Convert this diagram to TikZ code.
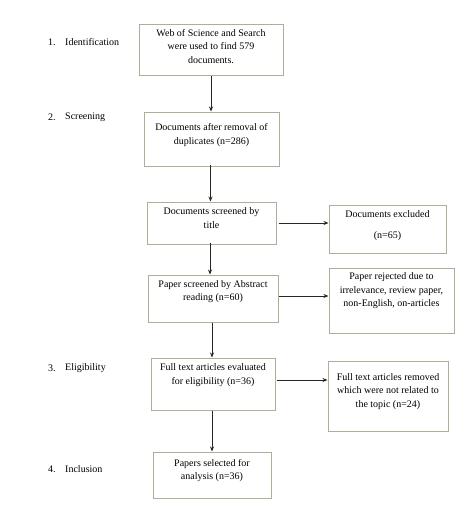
\documentclass[tikz,border=0pt]{standalone}
\usepackage{fontspec}
\setmainfont{Liberation Serif}
\usetikzlibrary{arrows.meta}
\definecolor{boxc}{HTML}{ABB09A}
\tikzset{
  box/.style={draw=boxc, line width=1pt, fill=white, inner sep=0pt},
  txt/.style={align=center, inner sep=0pt, font=\fontsize{10}{13.5}\selectfont},
  lbl/.style={anchor=west, inner sep=0pt, font=\fontsize{10}{13.5}\selectfont},
  arr/.style={draw=black!85, line width=0.8pt, -{Stealth[length=5pt,width=4pt]}}
}
\begin{document}
\begin{tikzpicture}[x=1pt,y=-1pt]
\useasboundingbox[fill=white] (0,0) rectangle (474,517);
% stage labels
\node[lbl] (n1) at (48,42) {1.};
\node[lbl] (l1) at (65,42) {Identification};
\node[lbl] (n2) at (48,117) {2.};
\node[lbl] (l2) at (65,117) {Screening};
\node[lbl] (n3) at (48,368) {3.};
\node[lbl] (l3) at (65,368) {Eligibility};
\node[lbl] (n4) at (48,469) {4.};
\node[lbl] (l4) at (65,469) {Inclusion};
% boxes
\node[box, minimum width=144pt, minimum height=51pt] (b1) at (211,49.5) {};
\node[txt] (t1) at (211,46.5) {Web of Science and Search\\were used to find 579\\documents.};
\node[box, minimum width=135pt, minimum height=54pt] (b2) at (211.5,139) {};
\node[txt] (t2) at (211.5,135) {Documents after removal of\\duplicates (n=286)};
\node[box, minimum width=129pt, minimum height=42pt] (b3) at (211.5,223) {};
\node[txt] (t3) at (211.5,218) {Documents screened by\\title};
\node[box, minimum width=117pt, minimum height=48pt] (e1) at (387.5,229) {};
\node[txt] (te1) at (387.5,225.5) {Documents excluded\\[7.5pt](n=65)};
\node[box, minimum width=130pt, minimum height=47pt] (b4) at (213,298.5) {};
\node[txt] (t4) at (213,291.5) {Paper screened by Abstract\\reading (n=60)};
\node[box, minimum width=125pt, minimum height=65pt] (e2) at (391.5,300.5) {};
\node[txt] (te2) at (391.5,291) {Paper rejected due to\\irrelevance, review paper,\\non-English, on-articles};
\node[box, minimum width=124pt, minimum height=52pt] (b5) at (213,384) {};
\node[txt] (t5) at (213,375) {Full text articles evaluated\\for eligibility (n=36)};
\node[box, minimum width=120pt, minimum height=70pt] (e3) at (388,396) {};
\node[txt] (te3) at (388,391.5) {Full text articles removed\\which were not related to\\the topic (n=24)};
\node[box, minimum width=118pt, minimum height=46pt] (b6) at (212,475) {};
\node[txt] (t6) at (212,470.5) {Papers selected for\\analysis (n=36)};
% connectors
\draw[arr] (b1.south) -- (b1.south |- b2.north);
\draw[arr] ([xshift=-1pt,yshift=2pt]b2.south) -- ([xshift=-1pt]b2.south |- b3.north);
\draw[arr] ([xshift=-1.5pt,yshift=2pt]b3.south) -- ([xshift=-1.5pt]b3.south |- b4.north);
\draw[arr] ([xshift=-1pt]b4.south) -- ([xshift=-1pt]b4.south |- b5.north);
\draw[arr] ([xshift=-1pt]b5.south) -- ([xshift=-1pt]b5.south |- b6.north);
\draw[arr] ([xshift=2pt]b3.east) -- (b3.east -| e1.west);
\draw[arr] ([yshift=2.5pt]b4.east) -- ([yshift=2.5pt]b4.east -| e2.west);
\draw[arr] ([xshift=1pt,yshift=4pt]b5.east) -- ([yshift=4pt]b5.east -| e3.west);
\end{tikzpicture}
\end{document}
